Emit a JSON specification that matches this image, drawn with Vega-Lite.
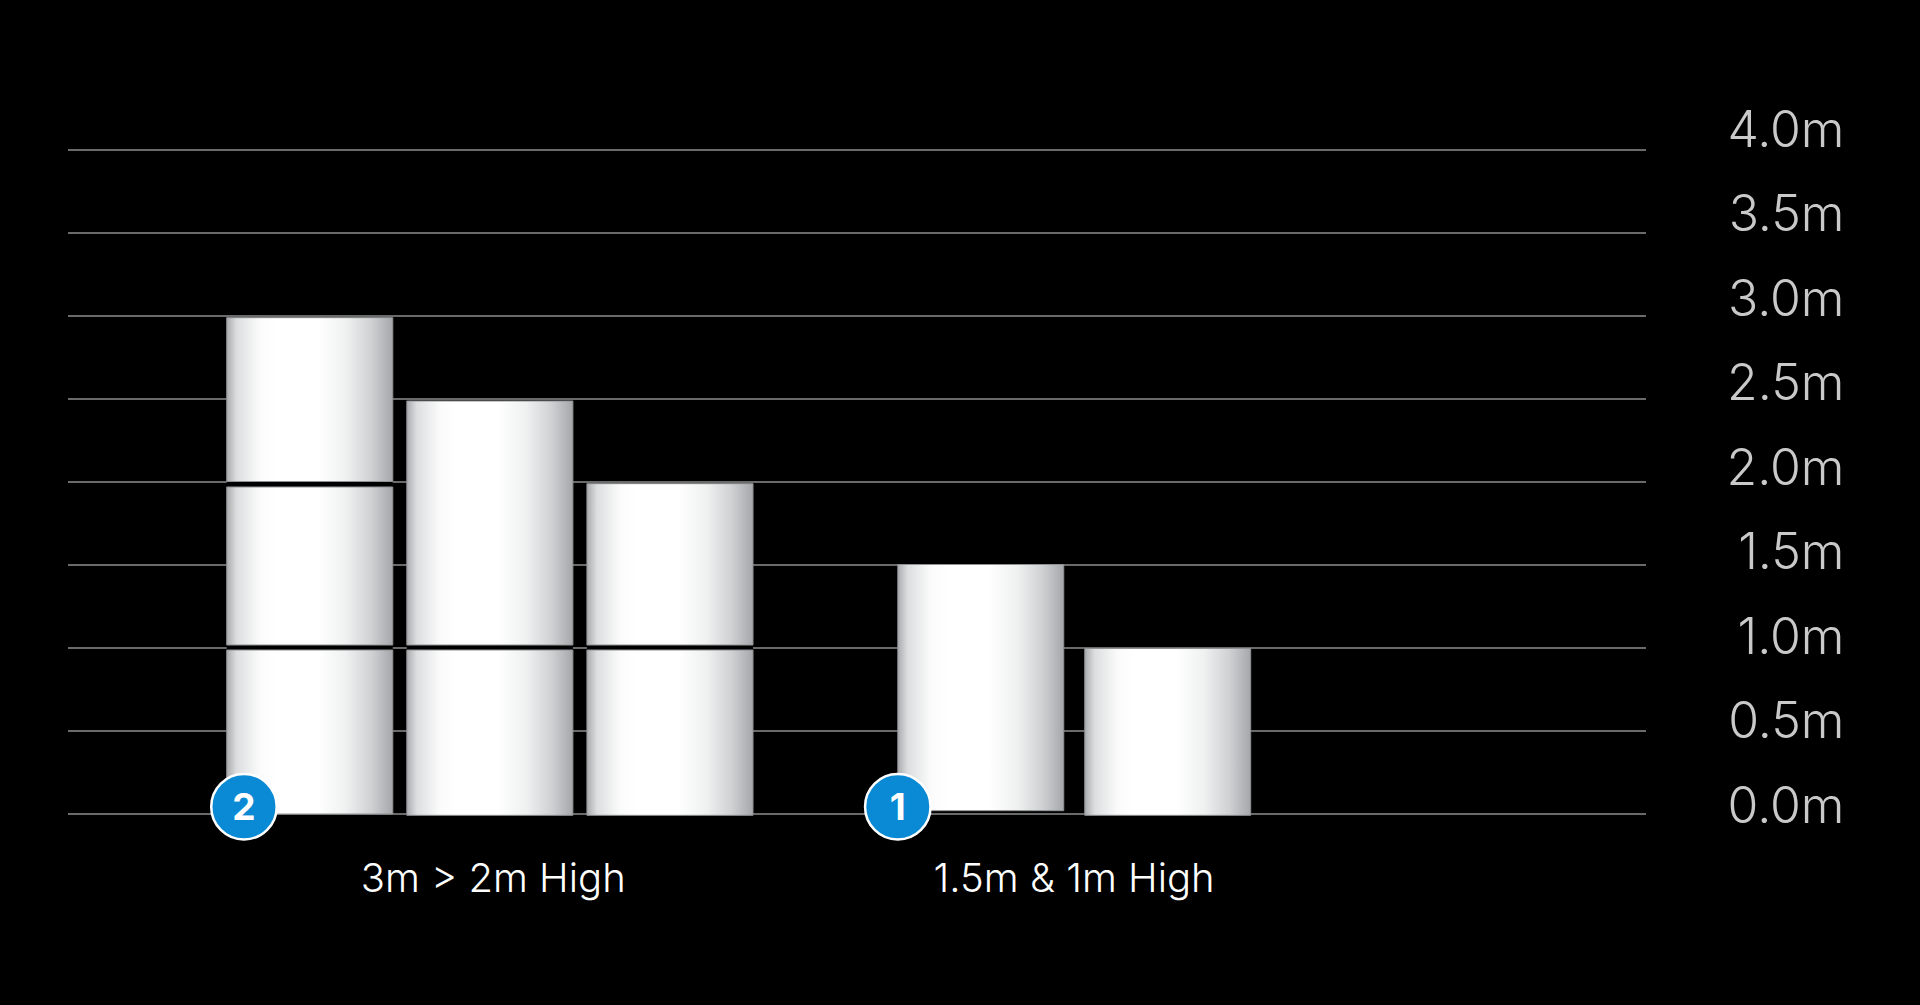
{
  "$schema": "https://vega.github.io/schema/vega-lite/v6.json",
  "width": 1578,
  "height": 664,
  "autosize": {"type": "none"},
  "padding": {"left": 68, "top": 150, "right": 274, "bottom": 191},
  "background": "#000000",
  "view": {"stroke": null},
  "config": {"font": "Inter"},
  "datasets": {
    "gridlines": [
      {"metres": 0}, {"metres": 0.5}, {"metres": 1}, {"metres": 1.5}, {"metres": 2},
      {"metres": 2.5}, {"metres": 3}, {"metres": 3.5}, {"metres": 4}
    ],
    "gaps": [
      {"bar": "A1", "from": 0.988, "to": 1.018},
      {"bar": "A1", "from": 1.97, "to": 2.003},
      {"bar": "A2", "from": 0.988, "to": 1.018},
      {"bar": "A3", "from": 0.988, "to": 1.018}
    ],
    "tall": [
      {"bar": "A1", "from": 0, "to": 0.988},
      {"bar": "A1", "from": 1.018, "to": 1.97},
      {"bar": "A1", "from": 2.003, "to": 2.99},
      {"bar": "A2", "from": -0.008, "to": 0.988},
      {"bar": "A2", "from": 1.018, "to": 2.488},
      {"bar": "A3", "from": -0.008, "to": 0.988},
      {"bar": "A3", "from": 1.018, "to": 1.99}
    ],
    "short": [
      {"bar": "B1", "from": 0.02, "to": 1.503},
      {"bar": "B2", "from": -0.008, "to": 0.997}
    ],
    "tallBadge": [{"bar": "A1", "number": "2"}],
    "tallCaption": [{"bar": "A2", "caption": "3m > 2m High"}],
    "shortBadge": [{"bar": "B1", "number": "1"}],
    "shortCaption": [{"bar": "B1", "caption": "1.5m & 1m High"}]
  },
  "layer": [
    {
      "data": {"name": "gridlines"},
      "mark": {"type": "rule", "color": "#8e8e8e", "strokeWidth": 1.5},
      "encoding": {
        "y": {
          "field": "metres",
          "type": "quantitative",
          "scale": {"domain": [0, 4], "nice": false},
          "axis": {
            "orient": "right",
            "title": null,
            "values": [0, 0.5, 1, 1.5, 2, 2.5, 3, 3.5, 4],
            "domain": false,
            "ticks": false,
            "grid": false,
            "labelExpr": "format(datum.value, '.1f') + 'm'",
            "labelAlign": "right",
            "labelPadding": 198,
            "labelOffset": {"expr": "-7 - 2.9 * datum.value"},
            "labelColor": "#c9c9c9",
            "labelFont": "Inter",
            "labelFontSize": 50,
            "labelFontWeight": 300
          }
        }
      }
    },
    {
      "layer": [
        {
          "data": {"name": "gaps"},
          "mark": {"type": "bar", "fill": "#000000"},
          "encoding": {
            "x": {
              "field": "bar",
              "type": "nominal",
              "axis": null,
              "scale": {"type": "band", "domain": ["A1", "A2", "A3"], "range": [158.7, 685], "paddingInner": 0.0778, "paddingOuter": 0}
            },
            "y": {"field": "to", "type": "quantitative", "title": null},
            "y2": {"field": "from"}
          }
        },
        {
          "data": {"name": "tall"},
          "mark": {
            "type": "bar",
            "stroke": "#8f9193",
            "strokeWidth": 1,
            "fill": {
              "gradient": "linear",
              "x1": 0, "y1": 0, "x2": 1, "y2": 0,
              "stops": [
                {"offset": 0, "color": "#a9abae"},
                {"offset": 0.06, "color": "#dcdedf"},
                {"offset": 0.2, "color": "#fbfbfb"},
                {"offset": 0.3, "color": "#ffffff"},
                {"offset": 0.55, "color": "#ffffff"},
                {"offset": 0.72, "color": "#eff0f0"},
                {"offset": 0.87, "color": "#d0d1d3"},
                {"offset": 1, "color": "#a5a7aa"}
              ]
            }
          },
          "encoding": {
            "x": {"field": "bar", "type": "nominal", "axis": null},
            "y": {"field": "to", "type": "quantitative", "title": null},
            "y2": {"field": "from"}
          }
        },
        {
          "data": {"name": "tallBadge"},
          "mark": {"type": "point", "shape": "circle", "filled": true, "fill": "#0a8ad4", "stroke": "#ffffff", "strokeWidth": 2.5, "size": 4290, "opacity": 1},
          "encoding": {
            "x": {"field": "bar", "type": "nominal", "bandPosition": 0.104, "axis": null},
            "y": {"datum": 0.044, "type": "quantitative", "title": null}
          }
        },
        {
          "data": {"name": "tallBadge"},
          "mark": {"type": "text", "color": "#ffffff", "font": "Inter", "fontSize": 37, "fontWeight": 700, "align": "center", "baseline": "middle", "dy": 2},
          "encoding": {
            "x": {"field": "bar", "type": "nominal", "bandPosition": 0.104, "axis": null},
            "y": {"datum": 0.044, "type": "quantitative", "title": null},
            "text": {"field": "number"}
          }
        },
        {
          "data": {"name": "tallCaption"},
          "mark": {"type": "text", "color": "#ffffff", "font": "Inter", "fontSize": 40, "fontWeight": 300, "align": "center", "baseline": "alphabetic"},
          "encoding": {
            "x": {"field": "bar", "type": "nominal", "bandPosition": 0.52, "axis": null},
            "y": {"datum": -0.468, "type": "quantitative", "title": null},
            "text": {"field": "caption"}
          }
        }
      ]
    },
    {
      "layer": [
        {
          "data": {"name": "short"},
          "mark": {
            "type": "bar",
            "stroke": "#8f9193",
            "strokeWidth": 1,
            "fill": {
              "gradient": "linear",
              "x1": 0, "y1": 0, "x2": 1, "y2": 0,
              "stops": [
                {"offset": 0, "color": "#a9abae"},
                {"offset": 0.06, "color": "#dcdedf"},
                {"offset": 0.2, "color": "#fbfbfb"},
                {"offset": 0.3, "color": "#ffffff"},
                {"offset": 0.55, "color": "#ffffff"},
                {"offset": 0.72, "color": "#eff0f0"},
                {"offset": 0.87, "color": "#d0d1d3"},
                {"offset": 1, "color": "#a5a7aa"}
              ]
            }
          },
          "encoding": {
            "x": {
              "field": "bar",
              "type": "nominal",
              "axis": null,
              "scale": {"type": "band", "domain": ["B1", "B2"], "range": [829.8, 1182.7], "paddingInner": 0.1123, "paddingOuter": 0}
            },
            "y": {"field": "to", "type": "quantitative", "title": null},
            "y2": {"field": "from"}
          }
        },
        {
          "data": {"name": "shortBadge"},
          "mark": {"type": "point", "shape": "circle", "filled": true, "fill": "#0a8ad4", "stroke": "#ffffff", "strokeWidth": 2.5, "size": 4290, "opacity": 1},
          "encoding": {
            "x": {"field": "bar", "type": "nominal", "bandPosition": 0, "axis": null},
            "y": {"datum": 0.044, "type": "quantitative", "title": null}
          }
        },
        {
          "data": {"name": "shortBadge"},
          "mark": {"type": "text", "color": "#ffffff", "font": "Inter", "fontSize": 37, "fontWeight": 700, "align": "center", "baseline": "middle", "dy": 2},
          "encoding": {
            "x": {"field": "bar", "type": "nominal", "bandPosition": 0, "axis": null},
            "y": {"datum": 0.044, "type": "quantitative", "title": null},
            "text": {"field": "number"}
          }
        },
        {
          "data": {"name": "shortCaption"},
          "mark": {"type": "text", "color": "#ffffff", "font": "Inter", "fontSize": 40, "fontWeight": 300, "align": "center", "baseline": "alphabetic"},
          "encoding": {
            "x": {"field": "bar", "type": "nominal", "bandPosition": 1.0625, "axis": null},
            "y": {"datum": -0.468, "type": "quantitative", "title": null},
            "text": {"field": "caption"}
          }
        }
      ]
    }
  ],
  "resolve": {"scale": {"x": "independent"}}
}
